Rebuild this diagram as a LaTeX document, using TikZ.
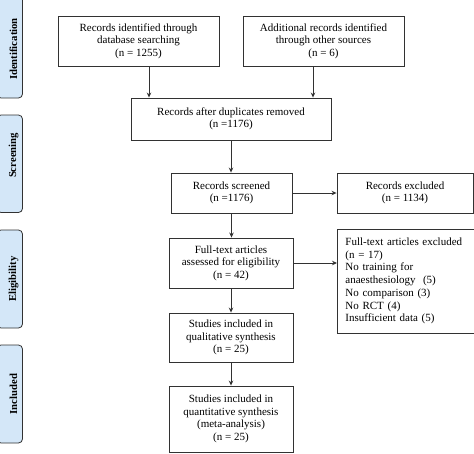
\documentclass[tikz,border=0pt]{standalone}
\usepackage{fontspec}
\setmainfont{Liberation Serif}
\usetikzlibrary{arrows.meta}
\definecolor{sideblue}{RGB}{212,231,248}
\definecolor{linegray}{RGB}{50,50,50}
\begin{document}
\begin{tikzpicture}[x=1pt,y=-1pt,
  box/.style={draw=linegray,line width=0.9pt,inner sep=0pt,align=center,font=\fontsize{11}{12.5}\selectfont},
  arr/.style={draw=linegray,line width=0.9pt,-{Stealth[length=5pt,width=4.5pt]}},
  sidebox/.style={draw=linegray,line width=0.8pt,fill=sideblue,rounded corners=4pt},
  sidetext/.style={rotate=90,font=\fontsize{10.7}{12}\selectfont\bfseries,inner sep=0pt}]
\useasboundingbox (0,0) rectangle (474,453);
% side phase labels
\draw[sidebox] (-3,-6) rectangle (22.5,98);
\node[sidetext] (lid) at (13.5,49) {Identification};
\draw[sidebox] (-3,115) rectangle (22.5,212.5);
\node[sidetext] (lsc) at (13.5,155.5) {Screening};
\draw[sidebox] (-3,230) rectangle (22.5,328);
\node[sidetext] (lel) at (13.5,279) {Eligibility};
\draw[sidebox] (-3,345) rectangle (22.5,443);
\node[sidetext] (lin) at (13.5,394) {Included};
% main boxes
\node[box,minimum width=161pt,minimum height=50pt] (db) at (138.5,41) {Records identified through\\database searching\\(n = 1255)};
\node[box,minimum width=161pt,minimum height=50pt] (other) at (323.5,41) {Additional records identified\\through other sources\\(n = 6)};
\node[box,minimum width=200pt,minimum height=42pt] (dup) at (231,119) {Records after duplicates removed\\(n =1176)};
\node[box,minimum width=121pt,minimum height=40pt] (scr) at (231.5,193) {Records screened\\(n =1176)};
\node[box,minimum width=136pt,minimum height=40pt] (rex) at (405,193) {Records excluded\\(n = 1134)};
\node[box,minimum width=124pt,minimum height=50pt] (ft) at (231,263) {Full-text articles\\assessed for eligibility\\(n = 42)};
\node[box,minimum height=104pt,text width=128pt,align=left,inner xsep=8pt,anchor=west,font=\fontsize{11}{12.7}\selectfont] (ftx) at (337,281) {Full-text articles excluded\\(n = 17)\\No training for\\anaesthesiology\ \ (5)\\No comparison (3)\\No RCT (4)\\Insufficient data (5)};
\node[box,minimum width=124pt,minimum height=49pt] (qual) at (231,337.5) {Studies included in\\qualitative synthesis\\(n = 25)};
\node[box,minimum width=124pt,minimum height=66pt] (quant) at (231,419) {Studies included in\\quantitative synthesis\\(meta-analysis)\\(n = 25)};
% connectors
\draw[arr] ([xshift=10.5pt]db.south) -- ([xshift=10.5pt]db.south |- dup.north);
\draw[arr] ([xshift=-10.5pt]other.south) -- ([xshift=-10.5pt]other.south |- dup.north);
\draw[arr] (dup.south) -- (dup.south |- scr.north);
\draw[arr] (scr.east) -- (rex.west);
\draw[arr] (scr.south) -- (scr.south |- ft.north);
\draw[arr] (ft.east) -- (ft.east -| ftx.west);
\draw[arr] (ft.south) -- (ft.south |- qual.north);
\draw[arr] (qual.south) -- (quant.north);
\end{tikzpicture}
\end{document}
